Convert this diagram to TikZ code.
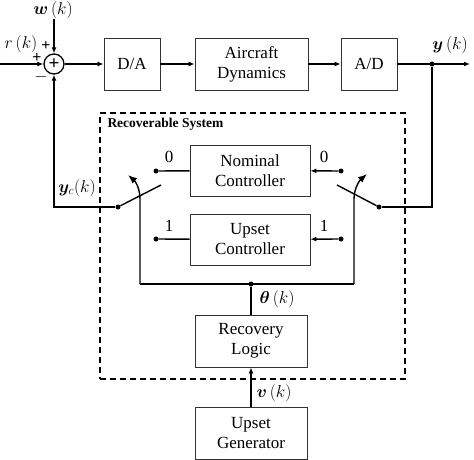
\documentclass[tikz,border=0pt]{standalone}
\usepackage{amsmath,amssymb,bm}
\usepackage{fontspec}
\setmainfont{Liberation Serif}
\usetikzlibrary{arrows.meta,positioning,calc}

\begin{document}
\begin{tikzpicture}[
  x=1pt,y=-1pt,
  font=\fontsize{17}{20}\selectfont,
  box/.style={draw=black!80,line width=0.9pt,align=center,minimum width=56pt,minimum height=52pt,inner sep=2pt},
  wide/.style={box,minimum width=113pt},
  ctrl/.style={box,minimum width=120pt,minimum height=51pt},
  sum/.style={draw,circle,line width=1.3pt,minimum size=20pt,inner sep=0pt,font=\fontsize{19}{19}\selectfont\bfseries},
  line/.style={line width=1.4pt},
  arrow/.style={line width=1.4pt,-{Latex[length=6pt,width=5pt]}},
  swarrow/.style={line width=1.4pt,-{Latex[length=9pt,width=7pt]}},
  dot/.style={circle,fill,inner sep=0pt,minimum size=5pt},
  frame/.style={draw,line width=1.4pt,dash pattern=on 6pt off 4pt,minimum width=305pt,minimum height=266pt},
  sign/.style={font=\fontsize{16}{16}\selectfont\bfseries,inner sep=0pt}
]
\useasboundingbox (0,0) rectangle (474,460);
% forward path
\node[sum] (sum) at (54,64) {+};
\node[box] (da) at (132,64) {D/A};
\node[wide] (plant) at (251.5,64) {Aircraft\\Dynamics};
\node[box] (ad) at (369,64) {A/D};
\node[dot] (yj) at (432,64) {};
\coordinate (yout) at (470,64);
\coordinate (rin) at (0,64);
\coordinate (win) at (54,19);
\node[inner sep=1pt] (wlab) at (53,10) {$\boldsymbol{w}\,(k)$};
\node (rlab) at (21,44) {$r\,(k)$};
\node (ylab) at (450,45) {$\boldsymbol{y}\,(k)$};
\node[sign] (p1) at (46,46) {+};
\node[sign] (p2) at (37,58) {+};
\node[sign] (m1) at (41,77) {$-$};
% recoverable system
\node[frame] (recsys) at (252.5,246) {};
\node[anchor=north west,font=\fontsize{13.5}{14}\selectfont\bfseries,inner sep=0pt] (reclab) at ([xshift=8pt,yshift=-6pt]recsys.north west) {Recoverable System};
\node[ctrl] (nom) at (250,170.5) {Nominal\\Controller};
\node[ctrl] (ups) at (250,239.5) {Upset\\Controller};
\node[wide,minimum width=112pt] (rec) at (251,341) {Recovery\\Logic};
\node[wide,minimum width=112pt] (gen) at (251,433) {Upset\\Generator};
% switch contacts
\node[dot] (n0l) at (156,171) {};
\node[dot] (u1l) at (156,239) {};
\node[dot] (n0r) at (341,171) {};
\node[dot] (u1r) at (341,239) {};
\node (z0l) at (169,157) {0};
\node (o1l) at (169,226) {1};
\node (z0r) at (324,157) {0};
\node (o1r) at (324,226) {1};
\node[dot] (lpiv) at (118,207) {};
\node[dot] (rpiv) at (379,207) {};
\coordinate (lblade) at (161,185);
\coordinate (rblade) at (337,185);
\coordinate (ltip) at (128,175);
\coordinate (rtip) at (367,174);
\coordinate (lbus) at (140,284);
\coordinate (rbus) at (354,284);
\node[dot] (thj) at (251,284) {};
\node (thlab) at (277,299) {$\boldsymbol{\theta}\,(k)$};
\node (vlab) at (274,393) {$\boldsymbol{v}\,(k)$};
\node (yclab) at (77,188) {$\boldsymbol{y}_c(k)$};
% connectors
\draw[arrow] (rin) -- (sum);
\draw[arrow] (win) -- (sum);
\draw[arrow] (sum) -- (da);
\draw[arrow] (da) -- (plant);
\draw[arrow] (plant) -- (ad);
\draw[arrow] (ad) -- (yout);
\draw[line] (yj) |- (rpiv);
\draw[arrow] (lpiv) -| (sum);
\draw[line] (lpiv) -- (lblade);
\draw[line] (rpiv) -- (rblade);
\draw[line] (n0l) -- (nom);
\draw[line] (u1l) -- (ups);
\draw[arrow] (n0r) -- (nom);
\draw[arrow] (u1r) -- (ups);
\draw[line] (lbus) -- (rbus);
\draw[swarrow] (lbus) -- (140,199) .. controls (140,188) and (135,181) .. (ltip);
\draw[swarrow] (rbus) -- (354,199) .. controls (354,188) and (360,180) .. (rtip);
\draw[line] (rec) -- (thj);
\draw[arrow] (gen) -- (rec);
\end{tikzpicture}
\end{document}
